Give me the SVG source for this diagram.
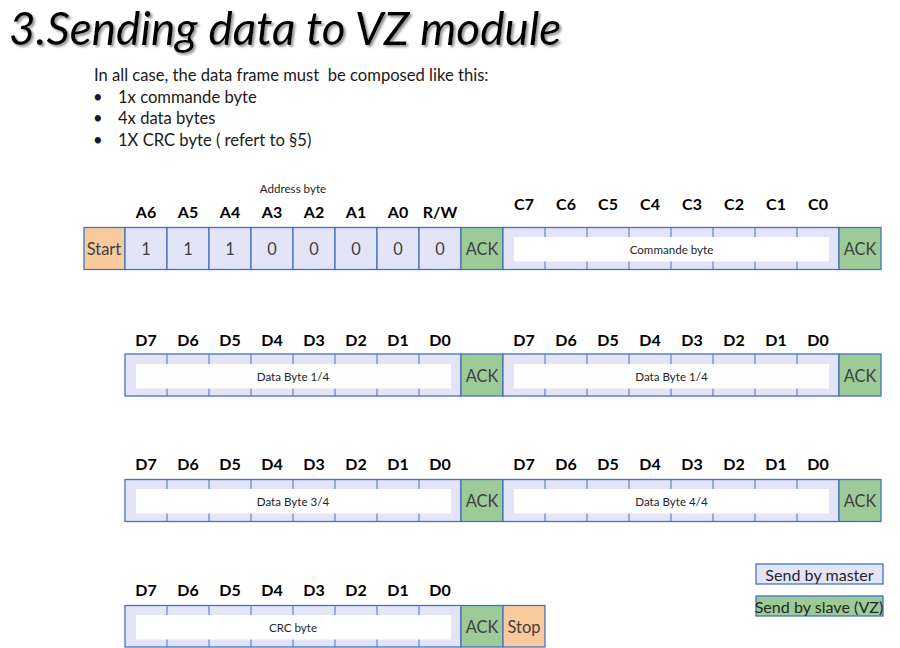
<svg xmlns="http://www.w3.org/2000/svg" width="900" height="648" viewBox="0 0 900 648">
<defs>
<style>
.ttl{font-family:Lato,"Open Sans",sans-serif;font-style:italic;font-size:46px;fill:#000}
.body{font-family:Lato,"Open Sans",sans-serif;font-size:16.6px;fill:#1a1a1a;white-space:pre}
.leg{font-family:Lato,"Open Sans",sans-serif;font-size:16.1px;fill:#262626;text-anchor:middle}
.bit{font-family:Lato,"Open Sans",sans-serif;font-weight:bold;font-size:16px;fill:#000;text-anchor:middle}
.val{font-family:Lato,"Open Sans",sans-serif;font-size:16.4px;fill:#404040;text-anchor:middle}
.sm{font-family:Lato,"Open Sans",sans-serif;font-size:11.6px;fill:#262626;text-anchor:middle}
.lav{fill:#E4E4F8;stroke:#4472C4;stroke-width:1.3}
.ack{fill:#9DCB98;stroke:#4472C4;stroke-width:1.3}
.org{fill:#F9CA9C;stroke:#4472C4;stroke-width:1.3}
.dv{stroke:#4472C4;stroke-width:1}
.wh{fill:#fff}
</style>
<filter id="sh" x="-5%" y="-20%" width="110%" height="150%"><feDropShadow dx="2" dy="2" stdDeviation="0.8" flood-color="#8c8c8c" flood-opacity="0.9"/></filter>
<g id="dividers">
<line class="dv" x1="42" y1="0" x2="42" y2="42"/>
<line class="dv" x1="84" y1="0" x2="84" y2="42"/>
<line class="dv" x1="126" y1="0" x2="126" y2="42"/>
<line class="dv" x1="168" y1="0" x2="168" y2="42"/>
<line class="dv" x1="210" y1="0" x2="210" y2="42"/>
<line class="dv" x1="252" y1="0" x2="252" y2="42"/>
<line class="dv" x1="294" y1="0" x2="294" y2="42"/>
</g>
</defs>
<rect width="900" height="648" fill="#fff"/>

<g id="title">
<text class="ttl" x="9" y="45" filter="url(#sh)">3.Sending data to VZ module</text>
</g>

<g id="intro">
<text class="body" x="94" y="81">In all case, the data frame must  be composed like this:</text>
<text class="body" x="93" y="102.5">•</text><text class="body" x="118" y="102.5">1x commande byte</text>
<text class="body" x="93" y="124">•</text><text class="body" x="118" y="124">4x data bytes</text>
<text class="body" x="93" y="145.5">•</text><text class="body" x="118" y="145.5">1X CRC byte ( refert to §5)</text>
</g>

<!-- Row 1 -->
<g id="start">
<rect class="org" x="84" y="227.5" width="41" height="42"/>
<text class="val" x="104" y="255" fill="#333">Start</text>
</g>
<g id="address-byte">
<text class="sm" x="293" y="193">Address byte</text>
<rect class="lav" x="125" y="227.5" width="42" height="42"/>
<rect class="lav" x="167" y="227.5" width="42" height="42"/>
<rect class="lav" x="209" y="227.5" width="42" height="42"/>
<rect class="lav" x="251" y="227.5" width="42" height="42"/>
<rect class="lav" x="293" y="227.5" width="42" height="42"/>
<rect class="lav" x="335" y="227.5" width="42" height="42"/>
<rect class="lav" x="377" y="227.5" width="42" height="42"/>
<rect class="lav" x="419" y="227.5" width="42" height="42"/>
<text class="bit" x="146" y="217.5">A6</text><text class="bit" x="188" y="217.5">A5</text><text class="bit" x="230" y="217.5">A4</text><text class="bit" x="272" y="217.5">A3</text><text class="bit" x="314" y="217.5">A2</text><text class="bit" x="356" y="217.5">A1</text><text class="bit" x="398" y="217.5">A0</text><text class="bit" x="440" y="217.5">R/W</text>
<text class="val" x="146" y="255">1</text><text class="val" x="188" y="255">1</text><text class="val" x="230" y="255">1</text><text class="val" x="272" y="255">0</text><text class="val" x="314" y="255">0</text><text class="val" x="356" y="255">0</text><text class="val" x="398" y="255">0</text><text class="val" x="440" y="255">0</text>
</g>
<g id="ack-1">
<rect class="ack" x="461" y="227.5" width="42" height="42"/>
<text class="val" x="482" y="255" fill="#333">ACK</text>
</g>
<g id="commande-byte">
<rect class="lav" x="503" y="227.5" width="336" height="42"/>
<use href="#dividers" x="503" y="227.5"/>
<rect class="wh" x="514" y="237" width="315" height="24.5"/>
<text class="bit" x="524" y="209.5">C7</text><text class="bit" x="566" y="209.5">C6</text><text class="bit" x="608" y="209.5">C5</text><text class="bit" x="650" y="209.5">C4</text><text class="bit" x="692" y="209.5">C3</text><text class="bit" x="734" y="209.5">C2</text><text class="bit" x="776" y="209.5">C1</text><text class="bit" x="818" y="209.5">C0</text>
<text class="sm" x="671.5" y="253.5">Commande byte</text>
</g>
<g id="ack-2">
<rect class="ack" x="839" y="227.5" width="42" height="42"/>
<text class="val" x="860" y="255" fill="#333">ACK</text>
</g>

<!-- Row 2 -->
<g id="data-byte-1">
<rect class="lav" x="125" y="354" width="336" height="42"/>
<use href="#dividers" x="125" y="354"/>
<rect class="wh" x="136" y="364" width="315" height="24.5"/>
<text class="bit" x="146" y="345.5">D7</text><text class="bit" x="188" y="345.5">D6</text><text class="bit" x="230" y="345.5">D5</text><text class="bit" x="272" y="345.5">D4</text><text class="bit" x="314" y="345.5">D3</text><text class="bit" x="356" y="345.5">D2</text><text class="bit" x="398" y="345.5">D1</text><text class="bit" x="440" y="345.5">D0</text>
<text class="sm" x="293" y="381">Data Byte 1/4</text>
</g>
<g id="ack-3">
<rect class="ack" x="461" y="354" width="42" height="42"/>
<text class="val" x="482" y="381.5" fill="#333">ACK</text>
</g>
<g id="data-byte-2">
<rect class="lav" x="503" y="354" width="336" height="42"/>
<use href="#dividers" x="503" y="354"/>
<rect class="wh" x="514" y="364" width="315" height="24.5"/>
<text class="bit" x="524" y="345.5">D7</text><text class="bit" x="566" y="345.5">D6</text><text class="bit" x="608" y="345.5">D5</text><text class="bit" x="650" y="345.5">D4</text><text class="bit" x="692" y="345.5">D3</text><text class="bit" x="734" y="345.5">D2</text><text class="bit" x="776" y="345.5">D1</text><text class="bit" x="818" y="345.5">D0</text>
<text class="sm" x="671.5" y="381">Data Byte 1/4</text>
</g>
<g id="ack-4">
<rect class="ack" x="839" y="354" width="42" height="42"/>
<text class="val" x="860" y="381.5" fill="#333">ACK</text>
</g>

<!-- Row 3 -->
<g id="data-byte-3">
<rect class="lav" x="125" y="479.5" width="336" height="42"/>
<use href="#dividers" x="125" y="479.5"/>
<rect class="wh" x="136" y="489" width="315" height="24.5"/>
<text class="bit" x="146" y="470">D7</text><text class="bit" x="188" y="470">D6</text><text class="bit" x="230" y="470">D5</text><text class="bit" x="272" y="470">D4</text><text class="bit" x="314" y="470">D3</text><text class="bit" x="356" y="470">D2</text><text class="bit" x="398" y="470">D1</text><text class="bit" x="440" y="470">D0</text>
<text class="sm" x="293" y="506">Data Byte 3/4</text>
</g>
<g id="ack-5">
<rect class="ack" x="461" y="479.5" width="42" height="42"/>
<text class="val" x="482" y="507" fill="#333">ACK</text>
</g>
<g id="data-byte-4">
<rect class="lav" x="503" y="479.5" width="336" height="42"/>
<use href="#dividers" x="503" y="479.5"/>
<rect class="wh" x="514" y="489" width="315" height="24.5"/>
<text class="bit" x="524" y="470">D7</text><text class="bit" x="566" y="470">D6</text><text class="bit" x="608" y="470">D5</text><text class="bit" x="650" y="470">D4</text><text class="bit" x="692" y="470">D3</text><text class="bit" x="734" y="470">D2</text><text class="bit" x="776" y="470">D1</text><text class="bit" x="818" y="470">D0</text>
<text class="sm" x="671.5" y="506">Data Byte 4/4</text>
</g>
<g id="ack-6">
<rect class="ack" x="839" y="479.5" width="42" height="42"/>
<text class="val" x="860" y="507" fill="#333">ACK</text>
</g>

<!-- Row 4 -->
<g id="crc-byte">
<rect class="lav" x="125" y="605.5" width="336" height="41.5"/>
<use href="#dividers" x="125" y="605.5"/>
<rect class="wh" x="136" y="615" width="315" height="24.5"/>
<text class="bit" x="146" y="596">D7</text><text class="bit" x="188" y="596">D6</text><text class="bit" x="230" y="596">D5</text><text class="bit" x="272" y="596">D4</text><text class="bit" x="314" y="596">D3</text><text class="bit" x="356" y="596">D2</text><text class="bit" x="398" y="596">D1</text><text class="bit" x="440" y="596">D0</text>
<text class="sm" x="293" y="632">CRC byte</text>
</g>
<g id="ack-7">
<rect class="ack" x="461" y="605.5" width="42" height="41.5"/>
<text class="val" x="482" y="633" fill="#333">ACK</text>
</g>
<g id="stop">
<rect class="org" x="503" y="605.5" width="42" height="41.5"/>
<text class="val" x="524" y="633" fill="#333">Stop</text>
</g>

<!-- Legend -->
<g id="legend-master">
<rect class="lav" x="756" y="564" width="127" height="20"/>
<text class="leg" x="819.5" y="580.5">Send by master</text>
</g>
<g id="legend-slave">
<rect class="ack" x="756" y="596" width="127" height="20"/>
<text class="leg" x="819" y="612.5">Send by slave (VZ)</text>
</g>
</svg>
